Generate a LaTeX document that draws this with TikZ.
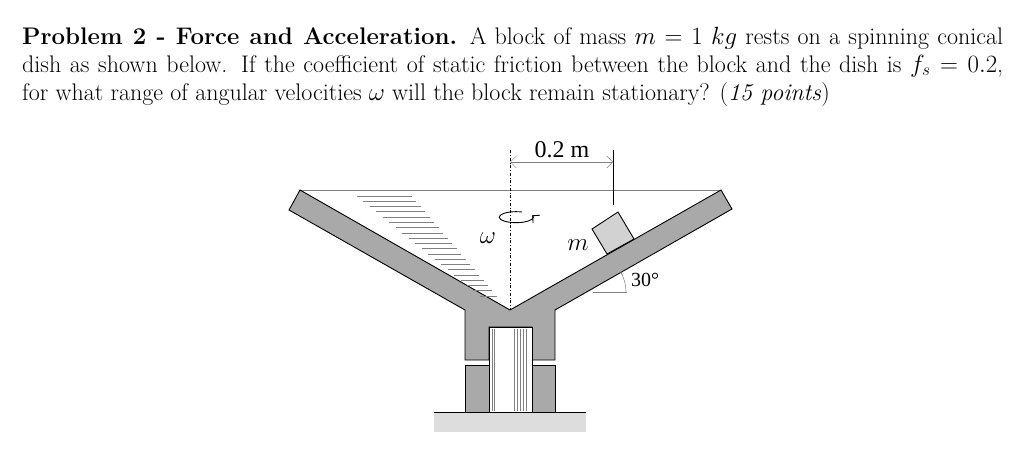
\documentclass[tikz,border=0pt]{standalone}
\usepackage{fontspec}
\newfontfamily\figfont{Liberation Serif}
\usetikzlibrary{arrows.meta}
\definecolor{dishgray}{HTML}{A9A9A9}
\definecolor{blockgray}{HTML}{D2D2D2}
\definecolor{basegray}{HTML}{DDDDDD}
\begin{document}
\begin{tikzpicture}[x=1pt,y=-1pt,
  txt/.style={anchor=base west,inner sep=0,font=\fontsize{24}{27}\selectfont},
  solid/.style={draw=black,line width=0.9pt},
  thin/.style={draw=gray,line width=0.6pt}]
\useasboundingbox (0,0) rectangle (1024,452);
\node[txt] (l1) at (22,45) {\makebox[981pt][s]{\textbf{Problem 2 - Force and Acceleration.} A block of mass $m = 1\ kg$ rests on a spinning conical}};
\node[txt] (l2) at (22,72) {\makebox[981pt][s]{dish as shown below. If the coefficient of static friction between the block and the dish is $f_s = 0.2$,}};
\node[txt] (l3) at (22,100) {for what range of angular velocities $\omega$ will the block remain stationary? (\textit{15 points})};
% base
\fill[basegray] (434,412) rectangle (586,432);
\draw[solid] (434,412) -- (586,412);
% top line
\draw[thin] (300,190) -- (721,190);
% dish
\draw[solid,fill=dishgray] (300,190) -- (510,310) -- (721,190) -- (732,209) -- (555,310) -- (555,360) -- (532,360) -- (532,327) -- (489,327) -- (489,360) -- (465,360) -- (465,310) -- (289,210) -- cycle;
\draw[solid,fill=dishgray] (465,365) rectangle (489,412);
\draw[solid,fill=dishgray] (532,365) rectangle (555,412);
\draw[solid,fill=white] (489,327) rectangle (532,412);
\foreach \x in {492,494.5,514,517,520,523,526} \draw[gray,line width=0.5pt] (\x,329) -- (\x,411);
% hatching
\foreach \i in {0,...,19} {
  \pgfmathsetmacro{\yy}{196+\i*5.26}
  \pgfmathsetmacro{\xa}{357+\i*6.47}
  \pgfmathsetmacro{\xb}{412+\i*4.47}
  \draw[gray,line width=0.6pt] (\xa,\yy) -- (\xb,\yy);
}
% axis
\draw[black,line width=0.5pt,dash dot] (510,150) -- (510,310);
% dimension
\draw[black,line width=0.5pt] (613,150) -- (613,205);
\draw[gray,line width=0.5pt,{Straight Barb[length=6pt]}-{Straight Barb[length=6pt]}] (510,162) -- (613,162);
\node[anchor=base,inner sep=0,font=\figfont\fontsize{24}{26}\selectfont] (dim) at (562,157) {0.2 m};
% rotation
\draw[black,line width=0.9pt,-{Straight Barb[length=5pt]}] (522,212) arc[start angle=-70,end angle=-380,x radius=17,y radius=5.5];
\node[inner sep=0,font=\fontsize{28}{30}\selectfont] (w) at (488,238) {$\omega$};
% block
\draw[solid,fill=blockgray] (592,229) -- (618,212) -- (634,239) -- (607,254) -- cycle;
\node[inner sep=0,font=\fontsize{28}{30}\selectfont] (m) at (578,245) {$m$};
% angle
\draw[thin] (593,292) -- (627,292);
\draw[gray,line width=0.5pt] (626,292) arc[start angle=0,end angle=-30,radius=40];
\node[anchor=west,inner sep=0,font=\figfont\fontsize{20}{22}\selectfont] (ang) at (631,280) {30°};
\end{tikzpicture}
\end{document}
